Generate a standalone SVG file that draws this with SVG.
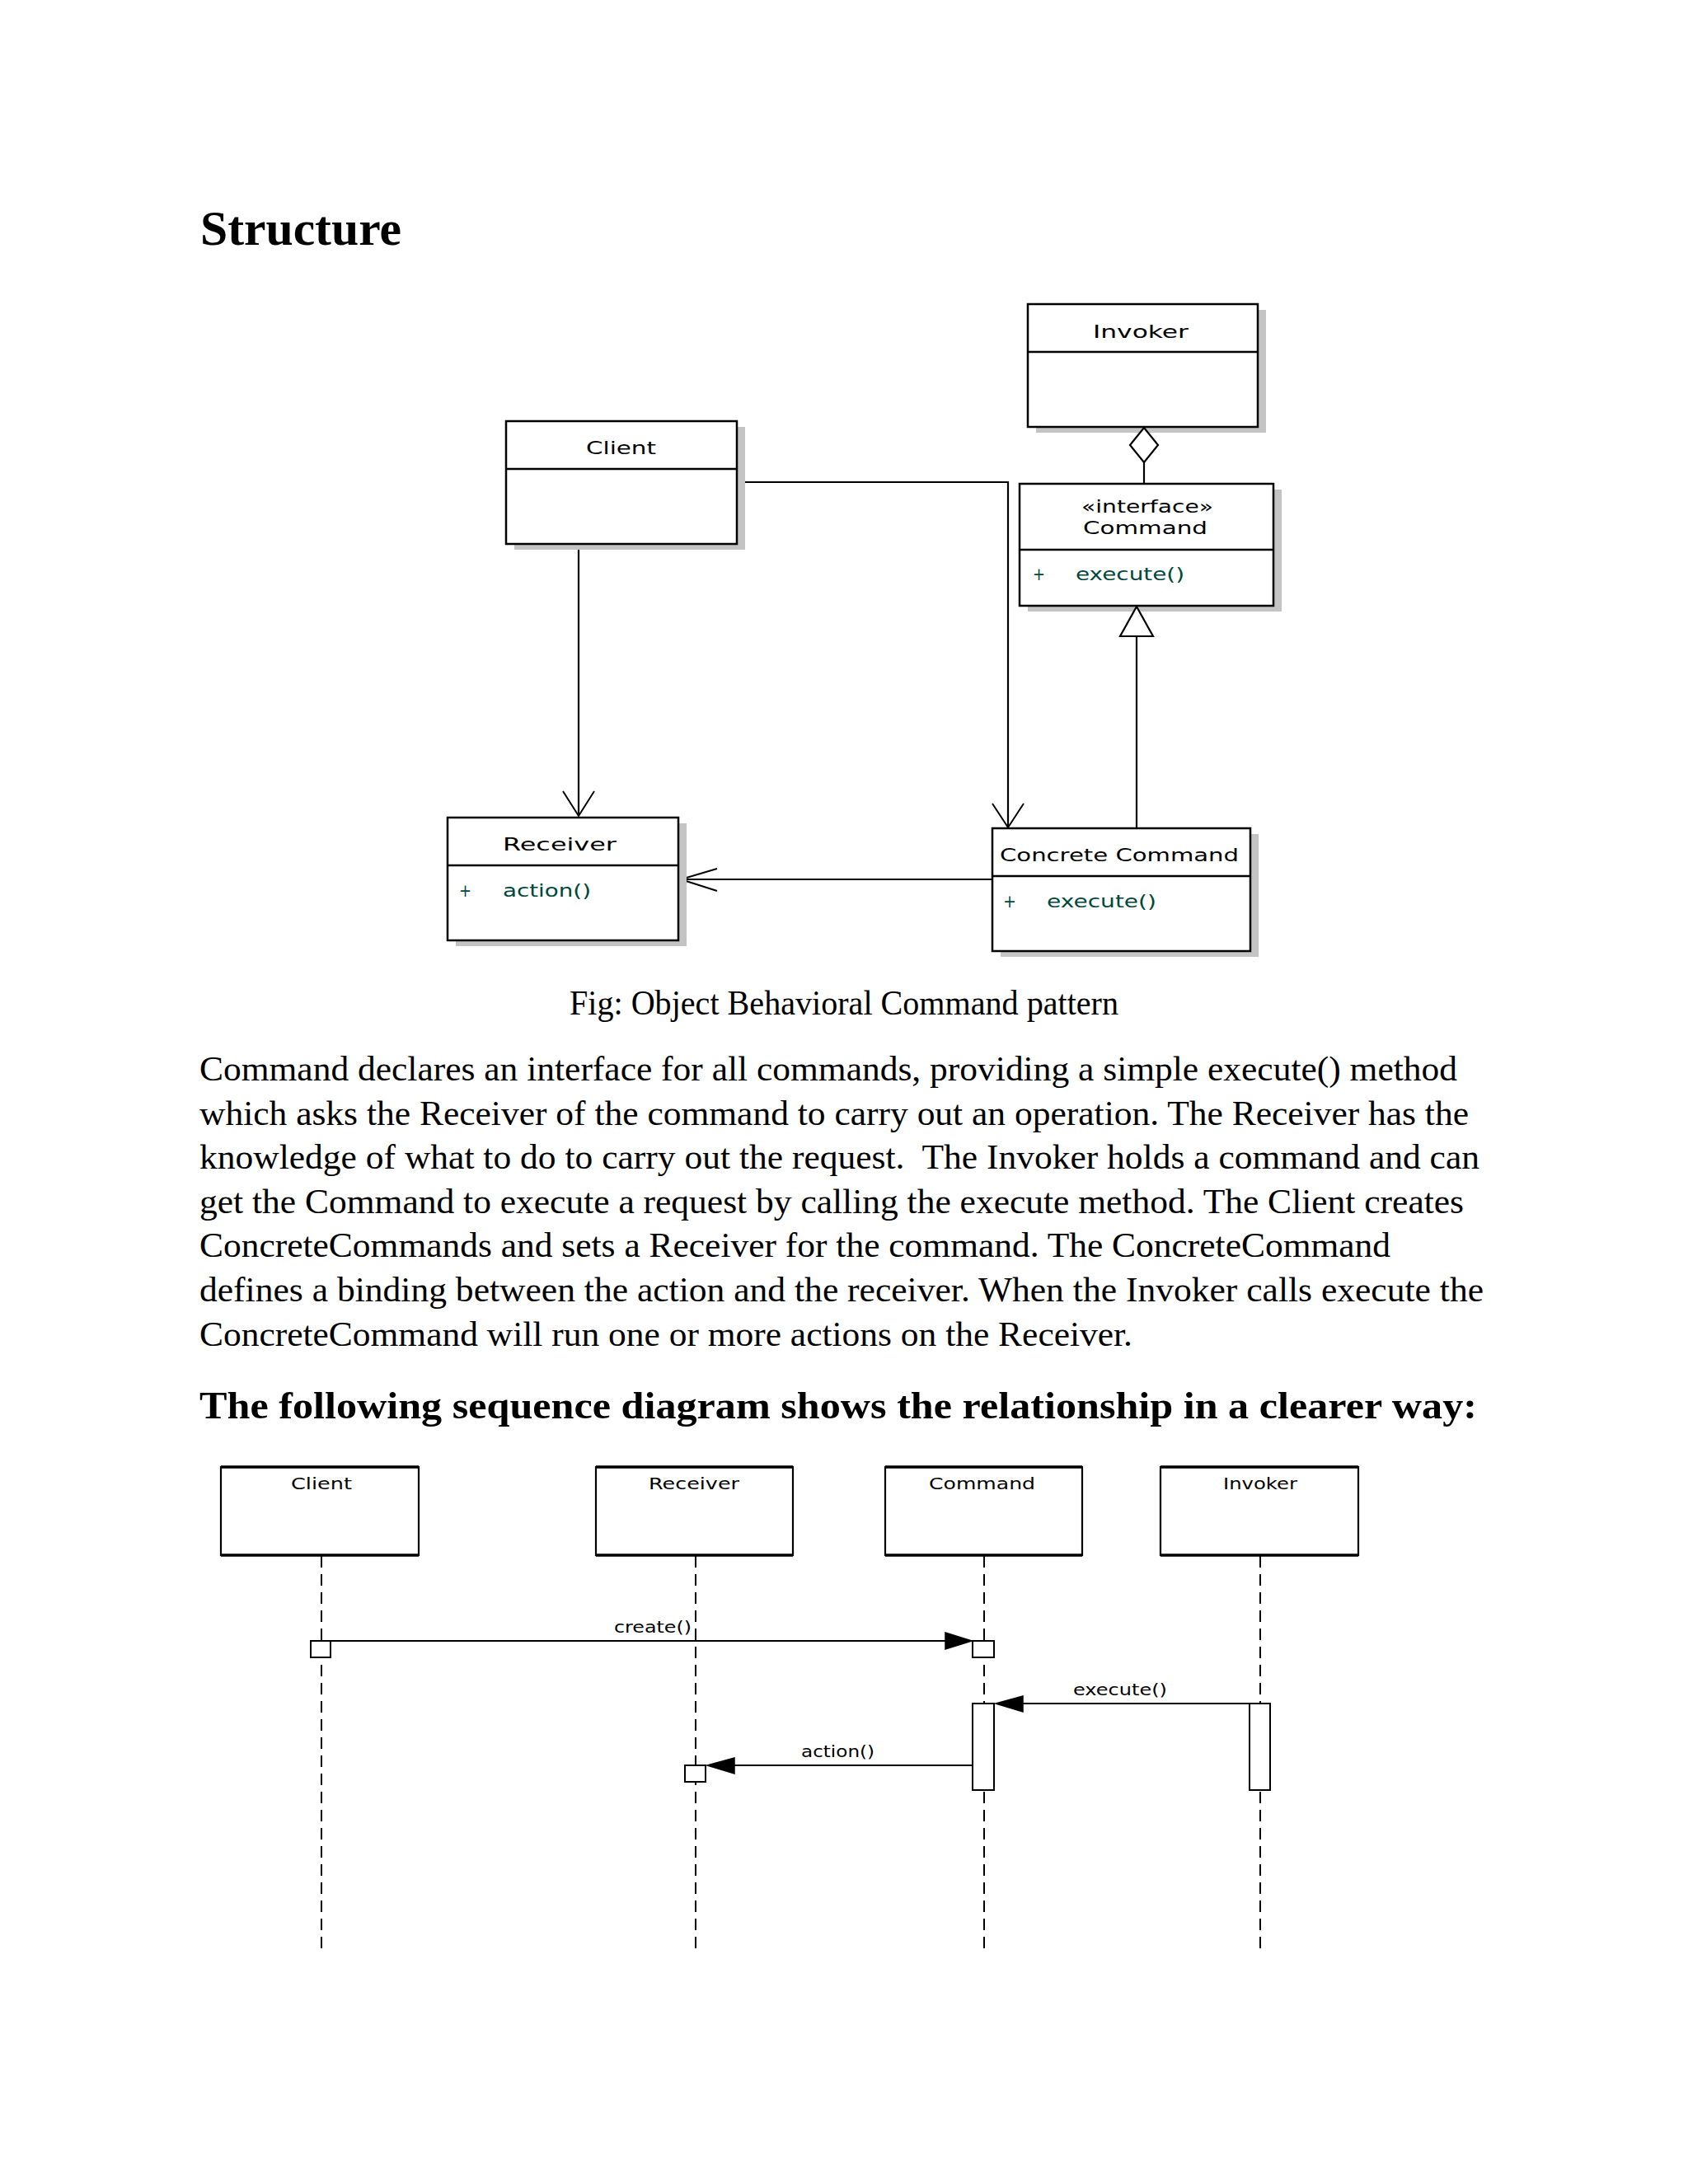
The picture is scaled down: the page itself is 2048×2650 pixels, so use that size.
<svg xmlns="http://www.w3.org/2000/svg" width="2048" height="2650" viewBox="0 0 2048 2650">
<style>
.bg{fill:#ffffff}
.box{fill:#ffffff;stroke:#000;stroke-width:2.5}
.shadow{fill:#c4c4c4}
.div{stroke:#000;stroke-width:2.5}
.ln{fill:none;stroke:#000;stroke-width:2.2}
.open{fill:none;stroke:#000;stroke-width:2}
.hollow{fill:#fff;stroke:#000;stroke-width:2.2}
.solid{fill:#000;stroke:#000;stroke-width:1.5}
.life{stroke:#000;stroke-width:2;stroke-dasharray:14 8}
.act{fill:#fff;stroke:#000;stroke-width:2}
.sbox{fill:#fff;stroke:#000;stroke-width:2.2}
.edge{stroke:#000;stroke-width:3.5}
.lbl{font-family:"DejaVu Sans","Liberation Sans",sans-serif;font-size:22px;fill:#000}
.op{font-family:"DejaVu Sans","Liberation Sans",sans-serif;font-size:22px;fill:#00483c}
.slbl{font-family:"DejaVu Sans","Liberation Sans",sans-serif;font-size:19px;fill:#000}
.h1{font-family:"Liberation Serif","Times New Roman",serif;font-weight:bold;font-size:60px;fill:#000}
.h2{font-family:"Liberation Serif","Times New Roman",serif;font-weight:bold;font-size:47px;fill:#000}
.body{font-family:"Liberation Serif","Times New Roman",serif;font-size:43px;fill:#000}
</style>
<rect class="bg" x="0" y="0" width="2048" height="2650"/>

<text class="h1" x="243" y="297" textLength="244" lengthAdjust="spacingAndGlyphs">Structure</text>

<g id="connectors">
  <line class="ln" x1="702" y1="660" x2="702" y2="990"/>
  <polyline class="open" points="683,960 702,990 721,960"/>
  <polyline class="ln" points="894,585 1223,585 1223,1004"/>
  <polyline class="open" points="1204,975 1223,1004 1242,975"/>
  <line class="ln" x1="1388" y1="561" x2="1388" y2="587"/>
  <line class="ln" x1="1379" y1="772" x2="1379" y2="1005"/>
  <line class="ln" x1="1204" y1="1067" x2="826" y2="1067"/>
  <polyline class="open" points="870,1054 826,1067 870,1081"/>
</g>

<g id="invoker">
  <rect class="shadow" x="1257" y="376" width="279" height="149"/>
  <rect class="box" x="1247" y="369" width="279" height="149"/>
  <line class="div" x1="1247" y1="427" x2="1526" y2="427"/>
  <text class="lbl" x="1326" y="410" textLength="116" lengthAdjust="spacingAndGlyphs">Invoker</text>
</g>
<g id="client">
  <rect class="shadow" x="624" y="518" width="280" height="149"/>
  <rect class="box" x="614" y="511" width="280" height="149"/>
  <line class="div" x1="614" y1="569" x2="894" y2="569"/>
  <text class="lbl" x="711" y="551" textLength="85" lengthAdjust="spacingAndGlyphs">Client</text>
</g>
<g id="command">
  <rect class="shadow" x="1247" y="594" width="308" height="148"/>
  <rect class="box" x="1237" y="587" width="308" height="148"/>
  <line class="div" x1="1237" y1="667" x2="1545" y2="667"/>
  <text class="lbl" x="1312" y="622" textLength="160" lengthAdjust="spacingAndGlyphs">«interface»</text>
  <text class="lbl" x="1314" y="648" textLength="151" lengthAdjust="spacingAndGlyphs">Command</text>
  <text class="op" x="1253" y="704" textLength="15" lengthAdjust="spacingAndGlyphs">+</text>
  <text class="op" x="1305" y="704" textLength="132" lengthAdjust="spacingAndGlyphs">execute()</text>
</g>
<g id="aggregation">
  <polygon class="hollow" points="1388,519 1405,540 1388,561 1371,540"/>
</g>
<g id="generalization">
  <polygon class="hollow" points="1379,736 1399,772 1359,772"/>
</g>
<g id="receiver">
  <rect class="shadow" x="553" y="999" width="280" height="149"/>
  <rect class="box" x="543" y="992" width="280" height="149"/>
  <line class="div" x1="543" y1="1050" x2="823" y2="1050"/>
  <text class="lbl" x="610" y="1032" textLength="138" lengthAdjust="spacingAndGlyphs">Receiver</text>
  <text class="op" x="557" y="1088" textLength="15" lengthAdjust="spacingAndGlyphs">+</text>
  <text class="op" x="610" y="1088" textLength="107" lengthAdjust="spacingAndGlyphs">action()</text>
</g>
<g id="concrete-command">
  <rect class="shadow" x="1214" y="1012" width="313" height="149"/>
  <rect class="box" x="1204" y="1005" width="313" height="149"/>
  <line class="div" x1="1204" y1="1063" x2="1517" y2="1063"/>
  <text class="lbl" x="1213" y="1045" textLength="290" lengthAdjust="spacingAndGlyphs">Concrete Command</text>
  <text class="op" x="1217" y="1101" textLength="16" lengthAdjust="spacingAndGlyphs">+</text>
  <text class="op" x="1270" y="1101" textLength="133" lengthAdjust="spacingAndGlyphs">execute()</text>
</g>

<text class="body" x="691" y="1231" textLength="666" lengthAdjust="spacingAndGlyphs">Fig: Object Behavioral Command pattern</text>

<g id="paragraph">
  <text class="body" x="242" y="1311" textLength="1526" lengthAdjust="spacingAndGlyphs">Command declares an interface for all commands, providing a simple execute() method</text>
  <text class="body" x="242" y="1365" textLength="1540" lengthAdjust="spacingAndGlyphs">which asks the Receiver of the command to carry out an operation. The Receiver has the</text>
  <text class="body" x="242" y="1418" textLength="1553" lengthAdjust="spacingAndGlyphs" xml:space="preserve">knowledge of what to do to carry out the request.  The Invoker holds a command and can</text>
  <text class="body" x="242" y="1472" textLength="1534" lengthAdjust="spacingAndGlyphs">get the Command to execute a request by calling the execute method. The Client creates</text>
  <text class="body" x="242" y="1525" textLength="1445" lengthAdjust="spacingAndGlyphs">ConcreteCommands and sets a Receiver for the command. The ConcreteCommand</text>
  <text class="body" x="242" y="1579" textLength="1558" lengthAdjust="spacingAndGlyphs">defines a binding between the action and the receiver. When the Invoker calls execute the</text>
  <text class="body" x="242" y="1633" textLength="1132" lengthAdjust="spacingAndGlyphs">ConcreteCommand will run one or more actions on the Receiver.</text>
</g>

<text class="h2" x="242" y="1721" textLength="1550" lengthAdjust="spacingAndGlyphs">The following sequence diagram shows the relationship in a clearer way:</text>

<g id="seq-lifelines">
  <line class="life" x1="390" y1="1888" x2="390" y2="2372"/>
  <line class="life" x1="844" y1="1888" x2="844" y2="2372"/>
  <line class="life" x1="1194" y1="1888" x2="1194" y2="2372"/>
  <line class="life" x1="1529" y1="1888" x2="1529" y2="2372"/>
</g>
<g id="seq-client">
  <rect class="sbox" x="268" y="1780" width="240" height="107"/>
  <line class="edge" x1="268" y1="1780" x2="508" y2="1780"/>
  <line class="edge" x1="268" y1="1887" x2="508" y2="1887"/>
  <text class="slbl" x="353" y="1807" textLength="74" lengthAdjust="spacingAndGlyphs">Client</text>
</g>
<g id="seq-receiver">
  <rect class="sbox" x="723" y="1780" width="239" height="107"/>
  <line class="edge" x1="723" y1="1780" x2="962" y2="1780"/>
  <line class="edge" x1="723" y1="1887" x2="962" y2="1887"/>
  <text class="slbl" x="787" y="1807" textLength="110" lengthAdjust="spacingAndGlyphs">Receiver</text>
</g>
<g id="seq-command">
  <rect class="sbox" x="1074" y="1780" width="239" height="107"/>
  <line class="edge" x1="1074" y1="1780" x2="1313" y2="1780"/>
  <line class="edge" x1="1074" y1="1887" x2="1313" y2="1887"/>
  <text class="slbl" x="1127" y="1807" textLength="129" lengthAdjust="spacingAndGlyphs">Command</text>
</g>
<g id="seq-invoker">
  <rect class="sbox" x="1408" y="1780" width="240" height="107"/>
  <line class="edge" x1="1408" y1="1780" x2="1648" y2="1780"/>
  <line class="edge" x1="1408" y1="1887" x2="1648" y2="1887"/>
  <text class="slbl" x="1484" y="1807" textLength="90" lengthAdjust="spacingAndGlyphs">Invoker</text>
</g>

<g id="seq-activations">
  <rect class="act" x="377" y="1991" width="24" height="20"/>
  <rect class="act" x="1180" y="1991" width="26" height="20"/>
  <rect class="act" x="1180" y="2067" width="26" height="105"/>
  <rect class="act" x="1516" y="2067" width="25" height="105"/>
  <rect class="act" x="831" y="2142" width="25" height="20"/>
</g>

<g id="seq-messages">
  <line class="ln" x1="377" y1="1991" x2="1150" y2="1991"/>
  <polygon class="solid" points="1147,1981 1179,1991 1147,2001"/>
  <text class="slbl" x="745" y="1981" textLength="94" lengthAdjust="spacingAndGlyphs">create()</text>
  <line class="ln" x1="1541" y1="2067" x2="1238" y2="2067"/>
  <polygon class="solid" points="1241,2058 1208,2067 1241,2077"/>
  <text class="slbl" x="1302" y="2057" textLength="114" lengthAdjust="spacingAndGlyphs">execute()</text>
  <line class="ln" x1="1180" y1="2142" x2="888" y2="2142"/>
  <polygon class="solid" points="891,2133 858,2142 891,2152"/>
  <text class="slbl" x="972" y="2132" textLength="89" lengthAdjust="spacingAndGlyphs">action()</text>
</g>
</svg>
